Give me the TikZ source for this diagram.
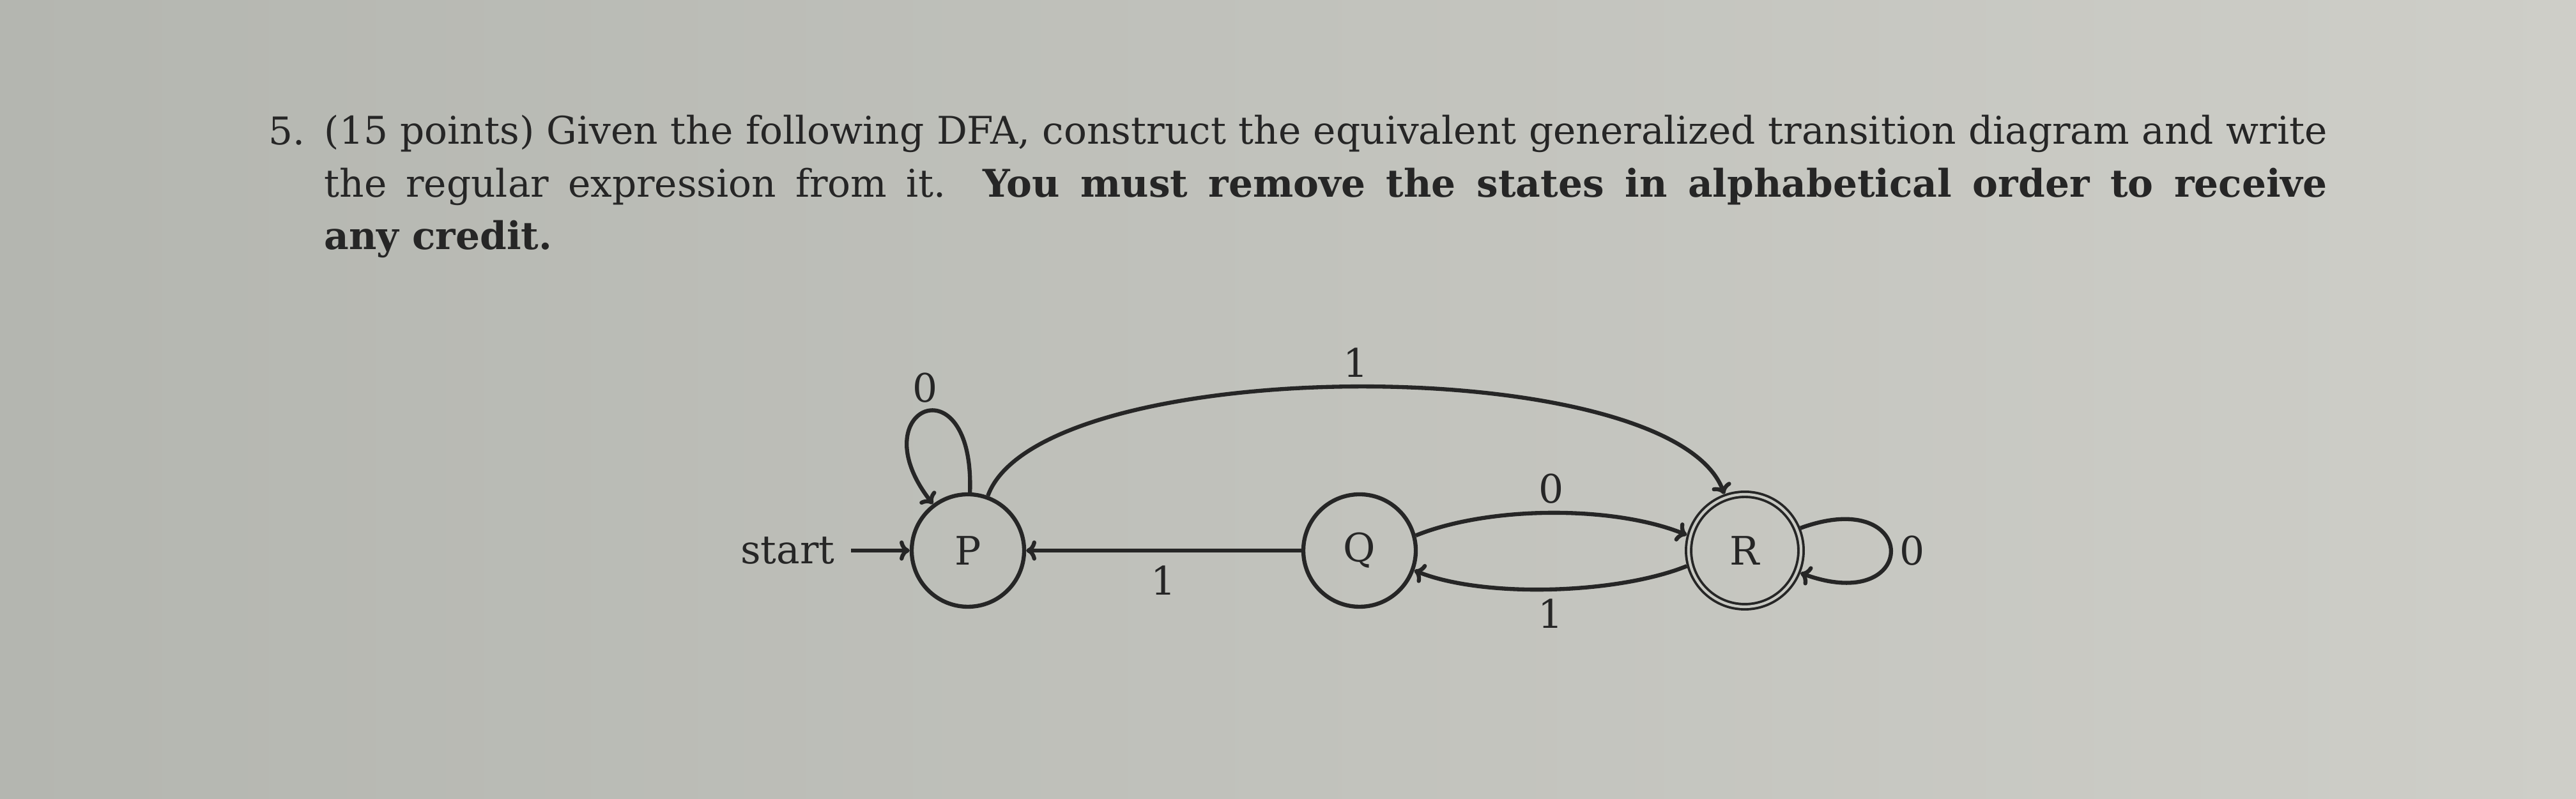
\documentclass[tikz,border=0pt]{standalone}
\usepackage{fontspec}
\setmainfont{DejaVu Serif}
\usepackage{tikz}
\usetikzlibrary{arrows.meta}

\definecolor{paperL}{RGB}{180,182,176}
\definecolor{paperM}{RGB}{200,201,195}
\definecolor{paperR}{RGB}{206,206,200}
\definecolor{ink}{RGB}{38,38,38}

\tikzset{
  dstate/.style={circle, draw=ink, line width=1.8pt, minimum size=1.76cm, inner sep=0pt},
  dfinal/.style={dstate, line width=1.1pt, double=paperM, double distance=1.2pt, outer sep=1.7pt},
  trans/.style={->, draw=ink, line width=1.8pt},
}

\begin{document}
\begin{tikzpicture}[font=\fontsize{17.5}{23.6}\selectfont, text=ink, >={To[length=4.5pt,width=9pt]}]
  \shade[left color=paperL, middle color=paperM, right color=paperR] (0,0) rectangle (40.32,12.51);
  \useasboundingbox (0,0) rectangle (40.32,12.51);

  % question text
  \node[anchor=base west, inner sep=0, font=\fontsize{17}{23.6}\selectfont] (num) at (4.20,10.24) {5.};
  \node[anchor=north west, inner sep=0, text width=31.35cm, align=justify, font=\fontsize{17}{23.6}\selectfont] (task) at (5.07,10.72)
    {\hyphenpenalty=10000 (15 points) Given the following DFA, construct the equivalent generalized transition diagram and write\linebreak
     the regular expression from it. \textbf{You must remove the states in alphabetical order to receive\linebreak
     any credit.}};

  % the DFA
  \node[dstate] (P) at (15.15,3.89) {P};
  \node[dstate] (Q) at (21.28,3.89) {Q};
  \node[dfinal] (R) at (27.31,3.89) {R};
  \node[anchor=east, inner xsep=0.25cm] (start) at (13.32,3.89) {start};

  \draw[trans] (start) -- (P);
  \draw[trans] (P.88) .. controls +(88:2.1) and +(128:1.9) .. node[above] (lpp) {0} (P.127);
  \draw[trans] (P.70) .. controls +(70:2.4) and +(110:2.4) .. node[above] (lpr) {1} (R.110);
  \draw[trans] (Q) -- node[below=2.5pt] (lqp) {1} (P);
  \draw[trans] (Q.15) to[out=22, in=158, looseness=0.75] node[above] (lqr) {0} (R.165);
  \draw[trans] (R.195) to[out=202, in=-22, looseness=0.7] node[below] (lrq) {1} (Q.-20);
  \draw[trans] (R.22) .. controls +(20:2) and +(-20:2) .. node[right] (lrr) {0} (R.-22);
\end{tikzpicture}
\end{document}
